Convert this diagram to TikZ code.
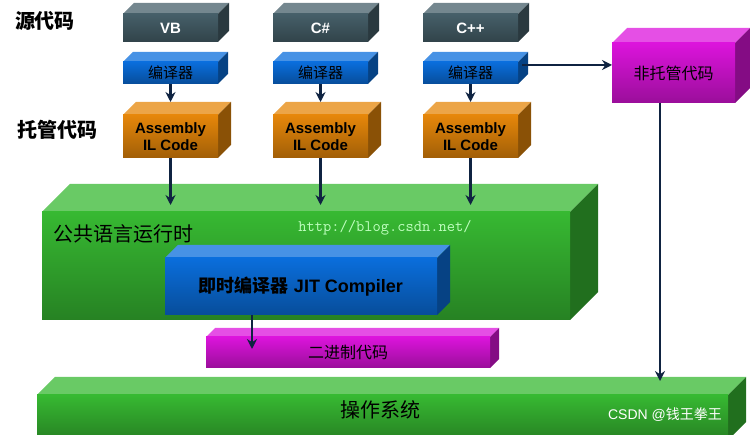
\documentclass[tikz,border=0pt]{standalone}
\usepackage{fontspec}
\setmainfont{Liberation Sans}
\newfontfamily\cjk{Noto Sans CJK SC}
\usetikzlibrary{arrows.meta}
\definecolor{slate}{RGB}{70,95,105}
\definecolor{bluebox}{RGB}{10,110,220}
\definecolor{orangebox}{RGB}{230,135,10}
\definecolor{greenbox}{RGB}{55,185,50}
\definecolor{magbox}{RGB}{220,20,220}
\definecolor{navy}{RGB}{15,35,65}
% 3D block: name, x1, y1, x2, y2, depth, colour
\newcommand{\blockbox}[7]{%
  \fill[#7!75!white] (#2,#3) -- (#2+#6,#3-#6) -- (#4+#6,#3-#6) -- (#4,#3) -- cycle;
  \fill[#7!60!black] (#4,#3) -- (#4+#6,#3-#6) -- (#4+#6,#5-#6) -- (#4,#5) -- cycle;
  \shade[top color=#7, bottom color=#7!70!black] (#2,#3) rectangle (#4,#5);
  \node (#1) at ({(#2+#4)/2},{(#3+#5)/2}) {};}
\newcommand{\fsz}[1]{\fontsize{#1}{#1}\selectfont}
\begin{document}
\begin{tikzpicture}
        [x=1pt, y=-1pt, >={Stealth[length=10pt,width=10pt]},
         flow/.style={->, line width=3pt, draw=navy},
         lbl/.style={font=\bfseries\fsz{15}}]
        \useasboundingbox (0,0) rectangle (750,435);

        % layers
        \blockbox{os}{37}{395}{728}{440}{18}{greenbox}
        \blockbox{clr}{42}{212}{570}{320}{28}{greenbox}
        \blockbox{jit}{165}{258}{437}{315}{13}{bluebox}
        \blockbox{bin}{206}{337}{490}{368}{9}{magbox}
        \blockbox{unmanaged}{612}{43}{735}{103}{15}{magbox}

        % languages
        \foreach \n/\t[count=\i] in {vb/VB, cs/C\#, cpp/C++}{
          \pgfmathsetmacro{\xa}{123+150*(\i-1)}
          \pgfmathsetmacro{\xb}{\xa+95}
          \blockbox{src-\n}{\xa}{14}{\xb}{42}{11}{slate}
          \blockbox{comp-\n}{\xa}{62}{\xb}{84}{10}{bluebox}
          \blockbox{il-\n}{\xa}{115}{\xb}{158}{13}{orangebox}
          \node[lbl, text=white] at (src-\n) {\t};
          \node[font=\cjk\fsz{15}] at (comp-\n) {编译器};
          \node[lbl, align=center, inner sep=0pt] at (il-\n) {Assembly\\[2pt]IL Code};
          \draw[flow] (comp-\n.center |- 0,84) -- (il-\n.center |- 0,102);
          \draw[flow] (il-\n.center |- 0,158) -- (il-\n.center |- 0,205);
        }

        \coordinate (cpp-out) at (522,65);
        \coordinate (un-in) at (612,65);
        \draw[flow, line width=1.5pt] (cpp-out) -- (un-in);
        \coordinate (un-out) at (660,103);
        \coordinate (os-in) at (660,381);
        \draw[flow, line width=1.5pt] (un-out) -- (os-in);
        \coordinate (jit-out) at (252,315);
        \coordinate (bin-in) at (252,349);
        \draw[flow, line width=2pt] (jit-out) -- (bin-in);

        % texts
        \node[font=\cjk\bfseries\fsz{20}] at (45,21) {源代码};
        \node[font=\cjk\bfseries\fsz{20}] at (57,130) {托管代码};
        \node[anchor=west, font=\cjk\fsz{20}] at (50,234) {公共语言运行时};
        \node[text=white!75!green, font=\ttfamily\fsz{16}] at (385,228) {http://blog.csdn.net/};
        \node[font=\cjk\fsz{16}] at (unmanaged) {非托管代码};
        \node[font=\bfseries\fsz{18}] at (jit) {{\cjk 即时编译器} JIT Compiler};
        \node[font=\cjk\fsz{16}] at (bin) {二进制代码};
        \node[font=\cjk\fsz{20}] at (380,410) {操作系统};
        \node[text=white, font=\fsz{14}] at (665,415) {CSDN @{\cjk 钱王拳王}};
\end{tikzpicture}
\end{document}
